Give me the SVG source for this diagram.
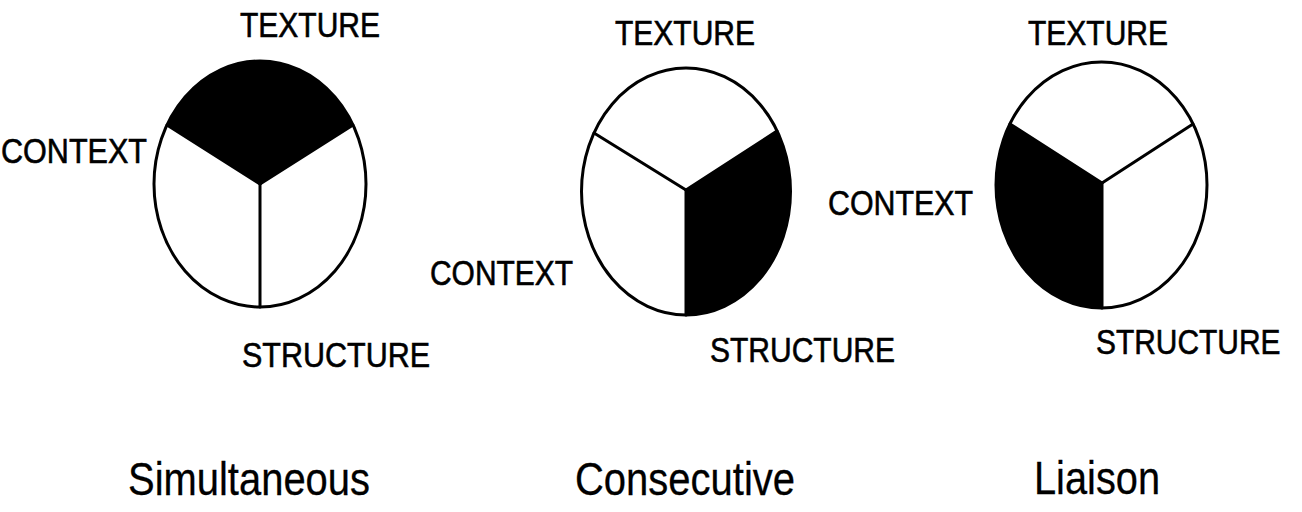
<svg xmlns="http://www.w3.org/2000/svg" width="1302" height="512" viewBox="0 0 1302 512">
<style>
.bg{fill:#fff}
.ell{fill:#fff;stroke:#000;stroke-width:3}
.sec{fill:#000;stroke:#000;stroke-width:1}
.spoke{stroke:#000;stroke-width:3;fill:none;stroke-linecap:round}
.lbl{font-family:"Liberation Sans",Arial,Helvetica,sans-serif;font-size:35px;fill:#000;stroke:#000;stroke-width:0.6}
.cap{font-family:"Liberation Sans",Arial,Helvetica,sans-serif;font-size:46px;fill:#000;stroke:#000;stroke-width:0.3}
</style>
<rect class="bg" x="0" y="0" width="1302" height="512"/>
<g id="simultaneous">
<ellipse class="ell" cx="260" cy="184" rx="106" ry="123"/>
<path class="sec" d="M260,184 L167,125 A106,123 0 0,1 353,125 Z"/>
<line class="spoke" x1="260" y1="184" x2="167" y2="125"/>
<line class="spoke" x1="260" y1="184" x2="353" y2="125"/>
<line class="spoke" x1="260" y1="184" x2="260" y2="307"/>
<text class="lbl" x="240" y="37" textLength="140" lengthAdjust="spacingAndGlyphs">TEXTURE</text>
<text class="lbl" x="1" y="163" textLength="146" lengthAdjust="spacingAndGlyphs">CONTEXT</text>
<text class="lbl" x="242" y="367" textLength="188" lengthAdjust="spacingAndGlyphs">STRUCTURE</text>
<text class="cap" x="128" y="495" textLength="242" lengthAdjust="spacingAndGlyphs">Simultaneous</text>
</g>
<g id="consecutive">
<ellipse class="ell" cx="686" cy="191.5" rx="104.5" ry="123.5"/>
<path class="sec" d="M686,190 L777,131 A104.5,123.5 0 0,1 686,315 Z"/>
<line class="spoke" x1="686" y1="190" x2="594" y2="133"/>
<line class="spoke" x1="686" y1="190" x2="777" y2="131"/>
<line class="spoke" x1="686" y1="190" x2="686" y2="315"/>
<text class="lbl" x="615" y="45" textLength="140" lengthAdjust="spacingAndGlyphs">TEXTURE</text>
<text class="lbl" x="430" y="285" textLength="143" lengthAdjust="spacingAndGlyphs">CONTEXT</text>
<text class="lbl" x="710" y="362" textLength="185" lengthAdjust="spacingAndGlyphs">STRUCTURE</text>
<text class="cap" x="575" y="495" textLength="220" lengthAdjust="spacingAndGlyphs">Consecutive</text>
</g>
<g id="liaison">
<ellipse class="ell" cx="1101.5" cy="185" rx="105.5" ry="123"/>
<path class="sec" d="M1102,183 L1102,308 A105.5,123 0 0,1 1010,124 Z"/>
<line class="spoke" x1="1102" y1="183" x2="1010" y2="124"/>
<line class="spoke" x1="1102" y1="183" x2="1193" y2="124"/>
<line class="spoke" x1="1102" y1="183" x2="1102" y2="308"/>
<text class="lbl" x="1028" y="45" textLength="140" lengthAdjust="spacingAndGlyphs">TEXTURE</text>
<text class="lbl" x="828" y="215" textLength="145" lengthAdjust="spacingAndGlyphs">CONTEXT</text>
<text class="lbl" transform="translate(1096,354) scale(0.855,1)" x="0" y="0">STRUCTURE</text>
<text class="cap" x="1034" y="494" textLength="126" lengthAdjust="spacingAndGlyphs">Liaison</text>
</g>
</svg>
